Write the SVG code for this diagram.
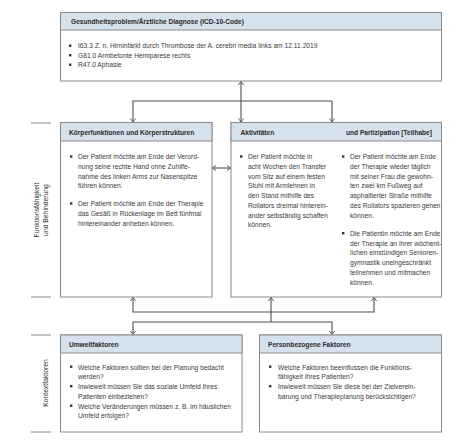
<svg xmlns="http://www.w3.org/2000/svg" width="474" height="444" viewBox="0 0 474 444">
<defs>
<style>
.box{fill:#fff;stroke:#8a8a8a;stroke-width:1}
.hdr{fill:#d6e1ee;stroke:#8a8a8a;stroke-width:1}
.ht{font-family:"Liberation Sans",Arial,sans-serif;font-size:6.6px;font-weight:bold;fill:#2a2a2a}
.t{font-family:"Liberation Sans",Arial,sans-serif;font-size:6.7px;fill:#3a3a3a}
.side{font-family:"Liberation Sans",Arial,sans-serif;font-size:6.8px;fill:#2a2a2a}
.bl{fill:#333}
.con{fill:none;stroke:#505050;stroke-width:1.1}
.tick{stroke:#8a8a8a;stroke-width:1}
</style>
<marker id="ah" viewBox="0 0 6 6" refX="5.6" refY="3" markerWidth="6" markerHeight="6" markerUnits="userSpaceOnUse" orient="auto-start-reverse">
<path d="M2,0.3 L5.6,3 L2,5.7" fill="none" stroke="#505050" stroke-width="0.9"/>
</marker>
</defs>
<rect width="474" height="444" fill="#fff"/>

<g id="side-labels">
<line class="tick" x1="31" y1="123" x2="51" y2="123"/>
<line class="tick" x1="31" y1="297" x2="51" y2="297"/>
<text class="side" transform="translate(39,210) rotate(-90)" text-anchor="middle">Funktionsfähigkeit</text>
<text class="side" transform="translate(47.5,210) rotate(-90)" text-anchor="middle">und Behinderung</text>
<line class="tick" x1="31" y1="335" x2="51" y2="335"/>
<line class="tick" x1="31" y1="432" x2="51" y2="432"/>
<text class="side" transform="translate(47.5,383) rotate(-90)" text-anchor="middle">Kontextfaktoren</text>
</g>

<g id="connectors">
<line class="con" x1="241" y1="81.5" x2="241" y2="122" marker-start="url(#ah)" marker-end="url(#ah)"/>
<polyline class="con" points="133,122 133,101 332,101 332,122" marker-start="url(#ah)" marker-end="url(#ah)"/>
<line class="con" x1="212.5" y1="168" x2="230.5" y2="168" marker-start="url(#ah)" marker-end="url(#ah)"/>
<polyline class="con" points="133,297.5 133,312 374,312 374,297.5" marker-start="url(#ah)" marker-end="url(#ah)"/>
<line class="con" x1="271" y1="297.5" x2="271" y2="322" marker-start="url(#ah)"/>
<polyline class="con" points="133,334.5 133,322 332,322 332,334.5" marker-start="url(#ah)" marker-end="url(#ah)"/>
</g>

<g id="diagnose">
<rect class="box" x="60.5" y="12.5" width="381" height="68.5"/>
<rect class="hdr" x="60.5" y="12.5" width="381" height="17.5"/>
<text class="ht" x="71" y="23.8">Gesundheitsproblem/Ärztliche Diagnose (ICD-10-Code)</text>
<rect class="bl" x="69" y="44.5" width="2.4" height="2.4"/>
<text class="t" x="78" y="48">I63.3 Z. n. Hirninfarkt durch Thrombose der A. cerebri media links am 12.11.2019</text>
<rect class="bl" x="69" y="54" width="2.4" height="2.4"/>
<text class="t" x="78" y="57.5">G81.0 Armbetonte Hemiparese rechts</text>
<rect class="bl" x="69" y="63.5" width="2.4" height="2.4"/>
<text class="t" x="78" y="67">R47.0 Aphasie</text>
</g>

<g id="koerper">
<rect class="box" x="60.5" y="122.5" width="151.5" height="174.5"/>
<rect class="hdr" x="60.5" y="122.5" width="151.5" height="18.5"/>
<text class="ht" x="69" y="134.5">Körperfunktionen und Körperstrukturen</text>
<rect class="bl" x="70" y="155.3" width="2.4" height="2.4"/>
<text class="t" x="78" y="159.3">Der Patient möchte am Ende der Verord-</text>
<text class="t" x="78" y="169">nung seine rechte Hand ohne Zuhilfe-</text>
<text class="t" x="78" y="178.7">nahme des linken Arms zur Nasenspitze</text>
<text class="t" x="78" y="188.4">führen können.</text>
<rect class="bl" x="70" y="202.3" width="2.4" height="2.4"/>
<text class="t" x="78" y="206.3">Der Patient möchte am Ende der Therapie</text>
<text class="t" x="78" y="216">das Gesäß in Rückenlage im Bett fünfmal</text>
<text class="t" x="78" y="225.7">hintereinander anheben können.</text>
</g>

<g id="aktivitaeten">
<rect class="box" x="231" y="122.5" width="210.5" height="174.5"/>
<rect class="hdr" x="231" y="122.5" width="210.5" height="18.5"/>
<text class="ht" x="240.5" y="134.5">Aktivitäten</text>
<text class="ht" x="346" y="134.5">und Partizipation [Teilhabe]</text>
<rect class="bl" x="240" y="155.3" width="2.4" height="2.4"/>
<text class="t" x="248" y="159.3">Der Patient möchte in</text>
<text class="t" x="248" y="169">acht Wochen den Transfer</text>
<text class="t" x="248" y="178.7">vom Sitz auf einem festen</text>
<text class="t" x="248" y="188.4">Stuhl mit Armlehnen in</text>
<text class="t" x="248" y="198.1">den Stand mithilfe des</text>
<text class="t" x="248" y="207.8">Rollators dreimal hinterein-</text>
<text class="t" x="248" y="217.5">ander selbständig schaffen</text>
<text class="t" x="248" y="227.2">können.</text>
<rect class="bl" x="342" y="155.3" width="2.4" height="2.4"/>
<text class="t" x="350" y="159.3">Der Patient möchte am Ende</text>
<text class="t" x="350" y="169">der Therapie wieder täglich</text>
<text class="t" x="350" y="178.7">mit seiner Frau die gewohn-</text>
<text class="t" x="350" y="188.4">ten zwei km Fußweg auf</text>
<text class="t" x="350" y="198.1">asphaltierter Straße mithilfe</text>
<text class="t" x="350" y="207.8">des Rollators spazieren gehen</text>
<text class="t" x="350" y="217.5">können.</text>
<rect class="bl" x="342" y="232" width="2.4" height="2.4"/>
<text class="t" x="350" y="236">Die Patientin möchte am Ende</text>
<text class="t" x="350" y="245.7">der Therapie an ihrer wöchent-</text>
<text class="t" x="350" y="255.4">lichen einstündigen Senioren-</text>
<text class="t" x="350" y="265.1">gymnastik uneingeschränkt</text>
<text class="t" x="350" y="274.8">teilnehmen und mitmachen</text>
<text class="t" x="350" y="284.5">können.</text>
</g>

<g id="umwelt">
<rect class="box" x="60.5" y="335" width="181.5" height="97"/>
<rect class="hdr" x="60.5" y="335" width="181.5" height="18"/>
<text class="ht" x="69" y="347">Umweltfaktoren</text>
<rect class="bl" x="70" y="365.5" width="2.4" height="2.4"/>
<text class="t" x="78" y="369.5">Welche Faktoren sollten bei der Planung bedacht</text>
<text class="t" x="78" y="379.2">werden?</text>
<rect class="bl" x="70" y="385" width="2.4" height="2.4"/>
<text class="t" x="78" y="389">Inwieweit müssen Sie das soziale Umfeld Ihres</text>
<text class="t" x="78" y="398.7">Patienten einbeziehen?</text>
<rect class="bl" x="70" y="404.5" width="2.4" height="2.4"/>
<text class="t" x="78" y="408.5">Welche Veränderungen müssen z. B. im häuslichen</text>
<text class="t" x="78" y="418.2">Umfeld erfolgen?</text>
</g>

<g id="person">
<rect class="box" x="259.5" y="335" width="182" height="97"/>
<rect class="hdr" x="259.5" y="335" width="182" height="18"/>
<text class="ht" x="268" y="347">Personbezogene Faktoren</text>
<rect class="bl" x="269" y="365.5" width="2.4" height="2.4"/>
<text class="t" x="278" y="369.5">Welche Faktoren beeinflussen die Funktions-</text>
<text class="t" x="278" y="379.2">fähigkeit Ihres Patienten?</text>
<rect class="bl" x="269" y="385" width="2.4" height="2.4"/>
<text class="t" x="278" y="389">Inwieweit müssen Sie diese bei der Zielverein-</text>
<text class="t" x="278" y="398.7">barung und Therapieplanung berücksichtigen?</text>
</g>
</svg>
